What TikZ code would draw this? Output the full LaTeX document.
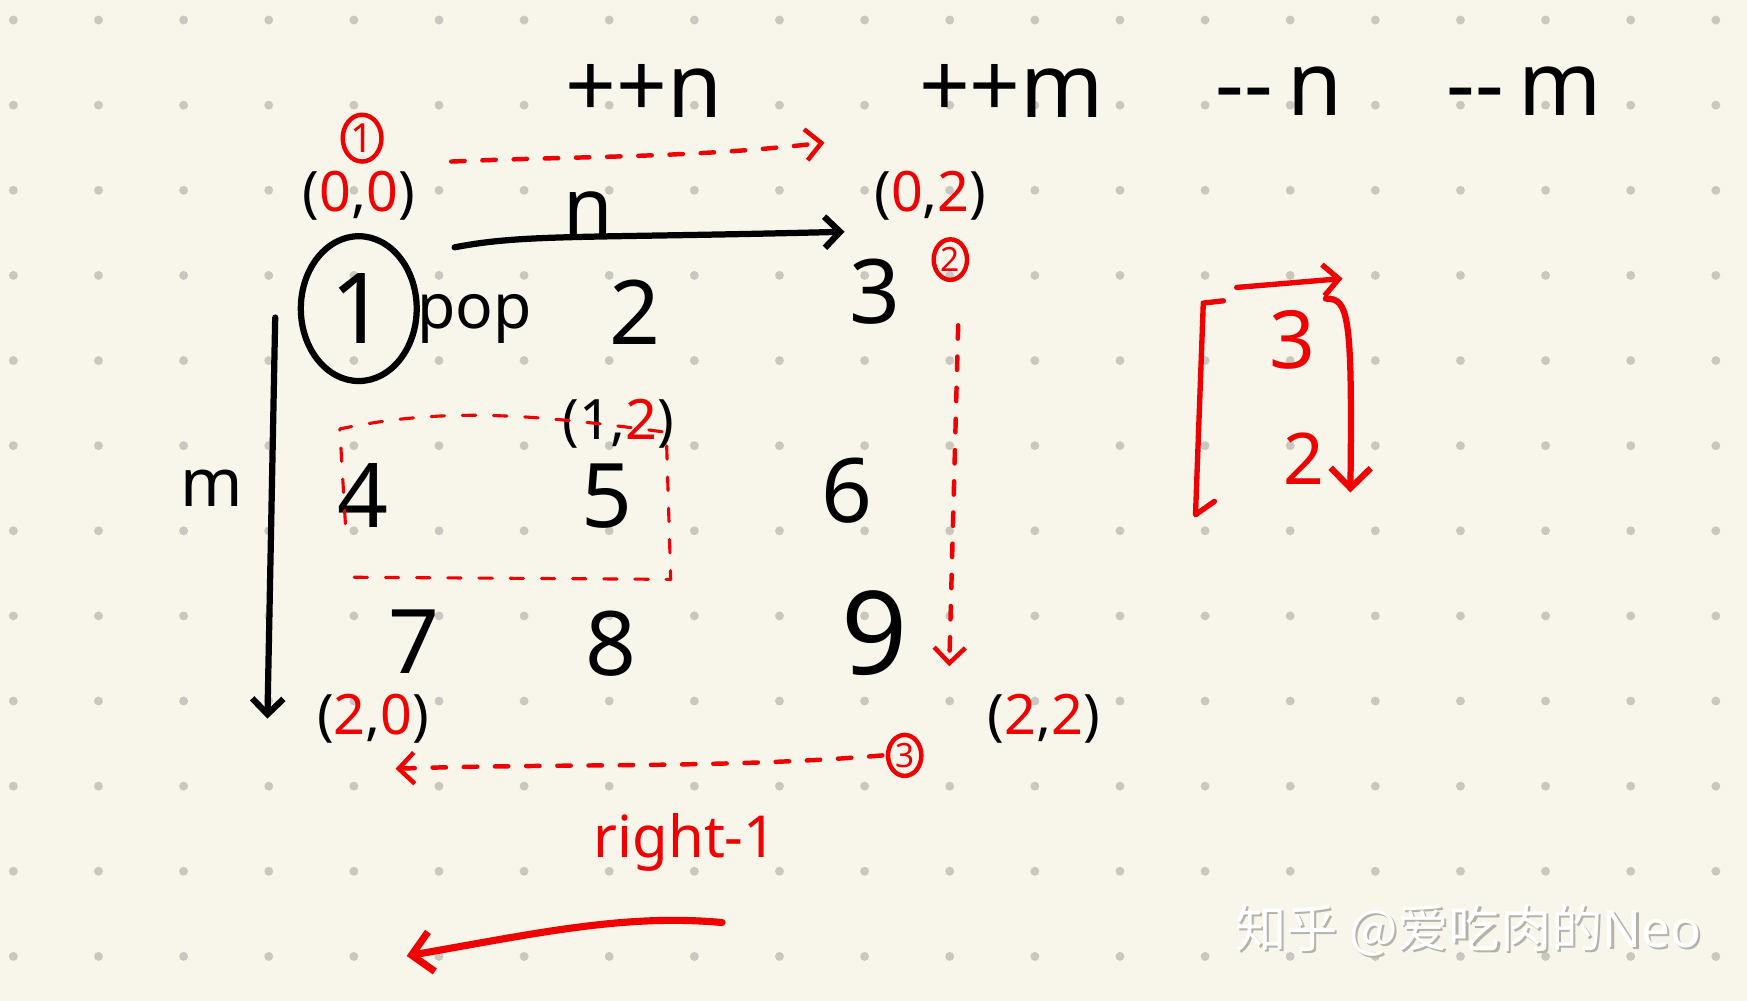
\documentclass[tikz,border=0pt]{standalone}
\usepackage{fontspec}
\setmainfont{Noto Sans}
\newfontfamily\cjk{Noto Sans CJK SC}
\usetikzlibrary{arrows.meta,shapes.geometric}
\definecolor{paper}{HTML}{F8F6EB}
\definecolor{dotc}{HTML}{C9C7BF}
\definecolor{pen}{HTML}{F00000}
\definecolor{wmgray}{HTML}{B4B2AA}
\newcommand{\rd}[1]{\textcolor{pen}{#1}}
\begin{document}
\begin{tikzpicture}[x=0.5pt,y=-0.5pt,
  ink/.style={draw=black,line width=2.8pt,line cap=round,line join=round},
  redink/.style={draw=pen,line width=2pt,line cap=round,line join=round},
  reddash/.style={redink,dash pattern=on 6pt off 8pt},
  barb/.style={-{Straight Barb[length=7pt,width=14pt]}},
  bigbarb/.style={-{Straight Barb[length=9pt,width=18pt]}},
  digit/.style={inner sep=0pt,font=\fontsize{40}{40}\selectfont},
  toptxt/.style={inner sep=0pt,font=\fontsize{40}{40}\selectfont},
  coordlbl/.style={inner sep=0pt,font=\fontsize{25}{25}\selectfont},
  lbl/.style={inner sep=0pt,font=\fontsize{30}{30}\selectfont},
  rcirc/.style={draw=pen,text=pen,ellipse,line width=2pt,inner sep=1pt,minimum width=15pt,minimum height=20pt,font=\fontsize{18}{18}\selectfont\bfseries},
  redtxt/.style={inner sep=0pt,text=pen,font=\fontsize{26}{26}\selectfont},
]
% paper and dot grid
\fill[paper] (0,0) rectangle (1568,898);
\useasboundingbox (0,0) rectangle (1568,898);
\foreach \i in {0,...,20}{
  \foreach \j in {0,...,11}{
    \fill[dotc] (12+76.4*\i,18+76.4*\j) circle (4);
  }
}
% top formulas
\node[toptxt] (pn) at (578,82) {++n};
\node[toptxt] (pm) at (908,82) {++m};
\node[toptxt] (mn) at (1148,82) {-{}-\,n};
\node[toptxt] (mm) at (1368,82) {-{}-\,m};

% step markers
\node[rcirc] (s1) at (325,124) {1};
\node[rcirc,minimum width=12pt,minimum height=15pt,font=\fontsize{15}{15}\selectfont\bfseries] (s2) at (853,233) {2};
\node[rcirc,minimum width=12pt,minimum height=15pt,font=\fontsize{15}{15}\selectfont\bfseries] (s3) at (812,678) {3};

% coordinate labels
\node[coordlbl] (c00) at (322,176) {(\rd{0},\rd{0})};
\node[coordlbl] (c02) at (835,176) {(\rd{0},\rd{2})};
\node[coordlbl] (c11) at (555,380) {(1,\rd{2})};
\node[coordlbl] (c20) at (335,645) {(\rd{2},\rd{0})};
\node[coordlbl] (c22) at (937,645) {(\rd{2},\rd{2})};

% grid of numbers
\node[ink,ellipse,minimum width=52pt,minimum height=65pt,inner sep=0pt,font=\fontsize{44}{44}\selectfont] (n1) at (322,277) {1};
\node[lbl,font=\fontsize{28}{28}\selectfont] (pop) at (426,286) {pop};
\node[digit] (n2) at (570,280) {2};
\node[digit] (n3) at (785,262) {3};
\node[digit] (n4) at (326,445) {4};
\node[digit] (n5) at (545,445) {5};
\node[digit] (n6) at (760,440) {6};
\node[digit] (n7) at (372,576) {7};
\node[digit] (n8) at (548,578) {8};
\node[digit,font=\fontsize{52}{52}\selectfont] (n9) at (785,568) {9};

% black arrows n and m
\coordinate (na) at (408,222);
\coordinate (nb) at (758,208);
\draw[ink,barb] (na) .. controls (470,210) and (520,214) .. (nb);
\node[lbl,font=\fontsize{36}{36}\selectfont] (nl) at (528,192) {n};
\coordinate (ma) at (247,285);
\coordinate (mb) at (240,645);
\draw[ink,barb] (ma) -- (mb);
\node[lbl] (ml) at (190,438) {m};

% red dashed traversal arrows
\coordinate (ta) at (405,145);
\coordinate (tb) at (740,128);
\draw[reddash,barb] (ta) .. controls (520,140) and (620,142) .. (tb);
\coordinate (ra) at (860,292);
\coordinate (rb) at (852,598);
\draw[reddash,barb] (ra) -- (rb);
\coordinate (ba) at (792,678);
\coordinate (bb) at (355,690);
\draw[reddash,barb] (ba) .. controls (650,690) and (500,685) .. (bb);

% inner dashed box
\coordinate (ib1) at (310,470);
\coordinate (ib2) at (305,385);
\coordinate (ib3) at (598,388);
\coordinate (ib4) at (602,520);
\coordinate (ib5) at (302,518);
\draw[reddash,line width=1.4pt] (ib1) -- (ib2) .. controls (400,365) and (480,372) .. (ib3) -- (ib4) -- (ib5);

% right-1
\node[redtxt] (rm) at (615,756) {right-1};
\coordinate (la) at (648,828);
\coordinate (lb) at (365,858);
\draw[redink,line width=3.2pt,bigbarb] (la) .. controls (560,820) and (480,838) .. (lb);

% right side sketch
\coordinate (k1) at (1098,270);
\coordinate (k2) at (1080,272);
\coordinate (k3) at (1073,462);
\coordinate (k4) at (1090,450);
\draw[redink,line width=2.4pt] (k1) -- (k2) -- (k3) -- (k4);
\coordinate (h1) at (1110,258);
\coordinate (h2) at (1205,250);
\draw[redink,line width=2.4pt,barb] (h1) -- (h2);
\coordinate (v1) at (1190,268);
\coordinate (v2) at (1212,442);
\draw[redink,line width=2.8pt,bigbarb] (v1) .. controls (1210,268) and (1214,280) .. (v2);
\node[redtxt,font=\fontsize{36}{36}\selectfont\bfseries] (r3) at (1160,305) {3};
\node[redtxt,font=\fontsize{32}{32}\selectfont\bfseries] (r2) at (1170,412) {2};

% watermark
\node[inner sep=0pt,text=wmgray,font=\fontsize{23}{23}\selectfont] (wms) at (1320,837) {{\cjk 知乎 @爱吃肉的}Neo};
\node[inner sep=0pt,text=white,font=\fontsize{23}{23}\selectfont] (wm) at (1318,835) {{\cjk 知乎 @爱吃肉的}Neo};
\end{tikzpicture}
\end{document}
